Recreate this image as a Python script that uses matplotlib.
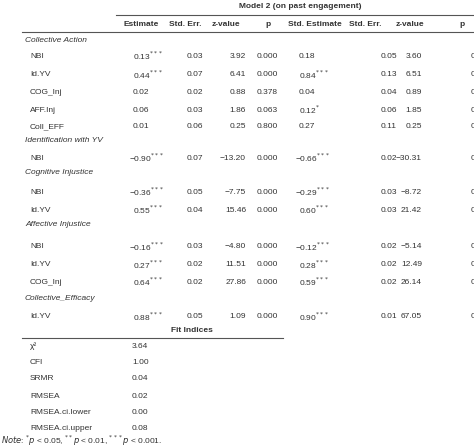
import matplotlib.pyplot as plt

sections = ["Collective Action", "Identification with YV", "Cognitive Injustice",
            "Affective Injustice", "Collective_Efficacy"]
section_rows = [["NBI", "Id.YV", "COG_Inj", "AFF.Inj", "Coll_EFF"], ["NBI"], ["NBI", "Id.YV"],
                ["NBI", "Id.YV", "COG_Inj"], ["Id.YV"]]
estimate = ["0.13", "0.44", "0.02", "0.06", "0.01", "−0.90", "−0.36", "0.55", "−0.16", "0.27", "0.64", "0.88"]
est_sig = ["***", "***", "", "", "", "***", "***", "***", "***", "***", "***", "***"]
std_err = ["0.03", "0.07", "0.02", "0.03", "0.06", "0.07", "0.05", "0.04", "0.03", "0.02", "0.02", "0.05"]
z_value = ["3.92", "6.41", "0.88", "1.86", "0.25", "−13.20", "−7.75", "15.46", "−4.80", "11.51", "27.86", "1.09"]
p_value = ["0.000", "0.000", "0.378", "0.063", "0.800", "0.000", "0.000", "0.000", "0.000", "0.000", "0.000", "0.000"]
std_est = ["0.18", "0.84", "0.04", "0.12", "0.27", "−0.66", "−0.29", "0.60", "−0.12", "0.28", "0.59", "0.90"]
std_sig = ["", "***", "", "*", "", "***", "***", "***", "***", "***", "***", "***"]
std_err2 = ["0.05", "0.13", "0.04", "0.06", "0.11", "0.02", "0.03", "0.03", "0.02", "0.02", "0.02", "0.01"]
z_value2 = ["3.60", "6.51", "0.89", "1.85", "0.25", "−30.31", "−8.72", "21.42", "−5.14", "12.49", "26.14", "67.05"]
p_value2 = ["0.000", "0.000", "0.376", "0.064", "0.800", "0.000", "0.000", "0.000", "0.000", "0.000", "0.000", "0.000"]
fit_labels = ["χ²", "CFI", "SRMR", "RMSEA", "RMSEA.ci.lower", "RMSEA.ci.upper"]
fit_values = ["3.64", "1.00", "0.04", "0.02", "0.00", "0.08"]
headers = ["Estimate", "Std. Err.", "z-value", "p", "Std. Estimate", "Std. Err.", "z-value", "p"]

W, H = 474, 445
fig = plt.figure(figsize=(W/100, H/100), dpi=100)
plt.rcParams['font.family'] = ['Liberation Sans', 'DejaVu Sans']
C = '#333333'
FS = 6.0

def T(x, y, s, ha='left', **kw):
    kw.setdefault('fontsize', FS)
    kw.setdefault('color', C)
    fig.text(x/W, 1 - y/H, s, ha=ha, va='center', **kw)

def L(x0, x1, y, lw=0.8):
    fig.add_artist(plt.Line2D([x0/W, x1/W], [1-y/H, 1-y/H], color='#555555', lw=lw))

T(300, 6, "Model 2 (on past engagement)", ha='center', fontweight='bold')
L(116, 474, 15)
hx = [141, 185, 226, 268, 315, 365, 410, 462]
for x, h in zip(hx, headers):
    T(x, 24, h, ha='center', fontweight='bold')
L(22, 474, 32)

sec_y = [40, 140, 173, 225, 298]
row_y = [[56, 75, 92, 110, 127], [158], [192, 210], [247, 265, 282], [317]]
i = 0
for s, ys, rows, ry in zip(sections, sec_y, section_rows, row_y):
    T(25, ys, s, style='italic')
    for lab, y in zip(rows, ry):
        T(30, y, lab)
        e = estimate[i]
        T(133 if not e.startswith('−') else 129, y, e + (f"$^{{{est_sig[i]}}}$" if est_sig[i] else ""))
        T(203, y, std_err[i], ha='right')
        T(246, y, z_value[i], ha='right')
        T(257, y, p_value[i])
        se = std_est[i]
        T(299 if not se.startswith('−') else 295, y, se + (f"$^{{{std_sig[i]}}}$" if std_sig[i] else ""))
        T(397, y, std_err2[i], ha='right')
        T(422, y, z_value2[i], ha='right')
        T(471, y, p_value2[i])
        i += 1

T(192, 330, "Fit Indices", ha='center', fontweight='bold')
L(22, 283, 338)
for lab, v, y in zip(fit_labels, fit_values, [346, 362, 379, 396, 412, 428]):
    T(30, y, lab)
    T(132, y, v)
fig.text(1/W, 1-441/H, "$\\it{Note}$: $^{*}$$\\it{p}$ < 0.05, $^{**}$$\\it{p}$ < 0.01, $^{***}$$\\it{p}$ < 0.001.",
         fontsize=FS, color=C, va='center', ha='left')

fig.savefig("out.png", dpi=100, facecolor='white')
